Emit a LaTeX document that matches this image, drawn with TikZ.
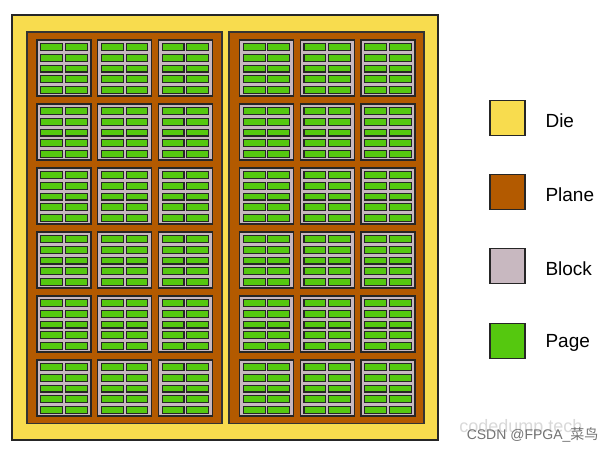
\documentclass[tikz,border=0pt]{standalone}
\usepackage{fontspec}
\setmainfont{Liberation Sans}
\newfontfamily\cjk{Noto Sans CJK SC}
\definecolor{die}{HTML}{F8DC4E}
\definecolor{plane}{HTML}{B35A00}
\definecolor{blk}{HTML}{C8B8C0}
\definecolor{pg}{HTML}{55C80F}
\begin{document}
\begin{tikzpicture}[x=1pt,y=-1pt,
  diebox/.style={fill=die,draw=black!85,line width=1.2pt},
  planebox/.style={fill=plane,draw=black!80,line width=1.2pt},
  blkbox/.style={fill=blk,draw=black!85,line width=1.2pt},
  pgbox/.style={fill=pg,draw=black!85,line width=1.1pt},
  leg/.style={font=\fontsize{19}{22}\selectfont,anchor=west}]
\useasboundingbox[fill=white] (0,0) rectangle (614,451);
\draw[diebox] (12,15) rectangle (438,440);
\foreach \px/\bx in {27/37,229/239.5}{
  \draw[planebox] (\px,32) rectangle (\px+195,423.5);
  \foreach \i in {0,1,2}{
    \foreach \j in {0,...,5}{
      \pgfmathsetmacro\X{\bx+\i*60.7}
      \pgfmathsetmacro\Y{40+\j*64}
      \draw[blkbox] (\X,\Y) rectangle (\X+54,\Y+56);
      \foreach \k in {0,1}{
        \foreach \r in {0,...,4}{
          \draw[pgbox] (\X+3.8+\k*24.6,\Y+3.7+\r*10.7) rectangle (\X+25.6+\k*24.6,\Y+10.6+\r*10.7);
        }
      }
    }
  }
}
\node[draw=black!85,line width=1.1pt,fill=die,minimum size=35pt,inner sep=0pt] (ld) at (507.5,118) {};
\node[draw=black!85,line width=1.1pt,fill=plane,minimum size=35pt,inner sep=0pt] (lp) at (507.5,192) {};
\node[draw=black!85,line width=1.1pt,fill=blk,minimum size=35pt,inner sep=0pt] (lb) at (507.5,266) {};
\node[draw=black!85,line width=1.1pt,fill=pg,minimum size=35pt,inner sep=0pt] (lg) at (507.5,341) {};
\node[leg] (td) at (542,121) {Die};
\node[leg] (tp) at (542,195) {Plane};
\node[leg] (tb) at (542,269) {Block};
\node[leg] (tg) at (542,343) {Page};
\node[font=\fontsize{18}{20}\selectfont,text=black!15,anchor=east] (wm1) at (586,428) {codedump.tech};
\node[font=\fontsize{14}{16}\selectfont,text=black!55,anchor=east] (wm2) at (602,435) {CSDN @FPGA\_{\cjk 菜鸟}};
\end{tikzpicture}
\end{document}
